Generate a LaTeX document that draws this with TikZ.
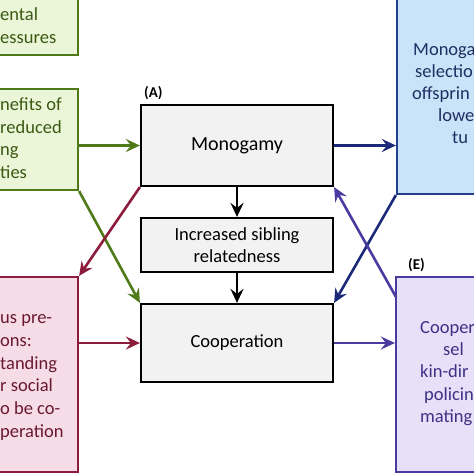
\documentclass[tikz,border=0pt]{standalone}
\usepackage{fontspec}
\setmainfont{Carlito}
\usepackage{xcolor}
\usetikzlibrary{shapes,arrows,arrows.meta,positioning}

\definecolor{envline}{HTML}{4F7A1A}
\definecolor{envfill}{HTML}{EBF5D8}
\definecolor{envtext}{HTML}{3A5A12}
\definecolor{preline}{HTML}{8C1C3C}
\definecolor{prefill}{HTML}{F6DCE6}
\definecolor{pretext}{HTML}{6A1830}
\definecolor{selline}{HTML}{23408C}
\definecolor{selarrow}{HTML}{1A2A78}
\definecolor{selfill}{HTML}{C9E3F8}
\definecolor{seltext}{HTML}{1F2F62}
\definecolor{kinline}{HTML}{4B3AA0}
\definecolor{kinfill}{HTML}{E6E0F8}
\definecolor{kintext}{HTML}{3F3085}
\definecolor{midfill}{HTML}{F2F2F2}

\begin{document}
\begin{tikzpicture}[x=1pt, y=-1pt,
  midbox/.style={draw=black, fill=midfill, line width=2.2pt, rectangle, inner sep=0pt,
    minimum width=192pt, align=center, font=\fontsize{18.5}{22.6}\selectfont},
  sidebox/.style={rectangle, line width=2.2pt, inner sep=0pt},
  sidetext/.style={inner sep=0pt, anchor=base west, font=\fontsize{18.5}{22.6}\selectfont},
  panel/.style={inner sep=0pt, anchor=west, font=\fontsize{15}{18}\selectfont\bfseries},
  flow/.style={line width=2.6pt, -{Stealth[length=14pt,width=13pt,inset=5pt]}}]

\useasboundingbox (0,0) rectangle (474,474);
\clip (0,0) rectangle (474,474);

% side boxes
\node[sidebox, draw=envline, fill=envfill, minimum width=198pt, minimum height=75pt] (envbox) at (-21,17.5) {};
\node[sidebox, draw=envline, fill=envfill, minimum width=198pt, minimum height=101pt] (benbox) at (-21,139.5) {};
\node[sidebox, draw=preline, fill=prefill, minimum width=198pt, minimum height=195pt] (prebox) at (-21,374.5) {};
\node[sidebox, draw=selline, fill=selfill, minimum width=200pt, minimum height=214pt] (monosel) at (497,87) {};
\node[sidebox, draw=kinline, fill=kinfill, minimum width=200pt, minimum height=195pt] (coopsel) at (496,374.5) {};

% middle column
\node[midbox, minimum height=81pt, font=\fontsize{20}{24}\selectfont] (mono) at (237,145.5) {Monogamy};
\node[midbox, minimum height=54pt] (sib) at (237,245) {Increased sibling\\relatedness};
\node[midbox, minimum height=78pt] (coop) at (237,343) {Cooperation};

\node[panel] at (144,93) {(A)};
\node[panel] at (408,265) {(E)};

% side texts
\node[sidetext, text=envtext] at (0,20.5) {ental};
\node[sidetext, text=envtext] at (0,43.5) {essures};

\node[sidetext, text=envtext] at (0,110.5) {nefits of};
\node[sidetext, text=envtext] at (0,133.1) {reduced};
\node[sidetext, text=envtext] at (0,155.7) {ng};
\node[sidetext, text=envtext] at (0,178.3) {ties};

\node[sidetext, text=pretext] at (0,323.5) {us pre-};
\node[sidetext, text=pretext] at (0,346.3) {ons:};
\node[sidetext, text=pretext] at (0,369.1) {tanding};
\node[sidetext, text=pretext] at (0,391.9) {r social};
\node[sidetext, text=pretext] at (0,414.7) {o be co-};
\node[sidetext, text=pretext] at (0,437.5) {peration};

\node[sidetext, text=seltext] at (413,55.5) {Monoga};
\node[sidetext, text=seltext] at (415,77.5) {selectio};
\node[sidetext, text=seltext] at (412,99.5) {offsprin};
\node[sidetext, text=seltext] at (438,121.5) {lowe};
\node[sidetext, text=seltext] at (452,143.5) {tu};

\node[sidetext, text=kintext] at (420,333.5) {Cooper};
\node[sidetext, text=kintext] at (443,355.5) {sel};
\node[sidetext, text=kintext] at (420,377.5) {kin-dir};
\node[sidetext, text=kintext] at (424,400.5) {policin};
\node[sidetext, text=kintext] at (420,422.5) {mating};

% connectors
\coordinate (kinstart) at (396,297);

\draw[flow, black] (mono) -- (sib);
\draw[flow, black] (sib) -- (coop);

\draw[flow, envline] (benbox.east |- mono.west) -- (mono.west);
\draw[flow, preline] (prebox.east |- coop.west) -- (coop.west);
\draw[flow, selarrow] (mono.east) -- (monosel.west |- mono.east);
\draw[flow, kinline] (coop.east) -- (coopsel.west |- coop.east);

\draw[flow, envline] (benbox.south east) -- (coop.north west);
\draw[flow, preline] (mono.south west) -- (prebox.north east);
\draw[flow, selarrow] (monosel.south west) -- (coop.north east);
\draw[flow, kinline] (kinstart) -- (mono.south east);

\end{tikzpicture}
\end{document}
